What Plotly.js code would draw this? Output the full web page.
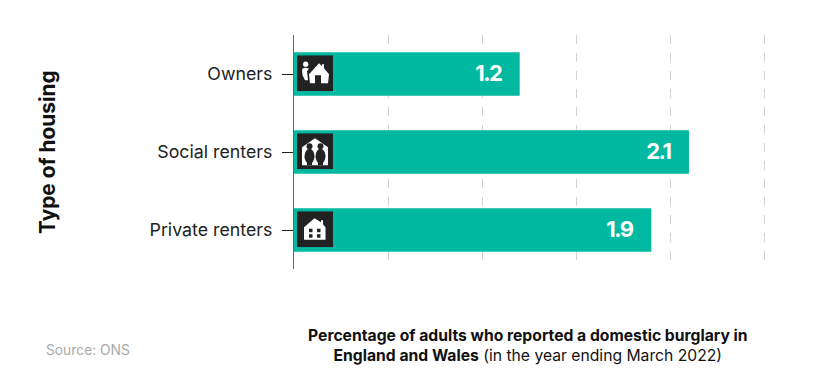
<!DOCTYPE html>
<html>
<head>
<meta charset="utf-8">
<script src="https://cdn.plot.ly/plotly-3.0.1.min.js"></script>
<style>html,body{margin:0;padding:0;background:#fff}#c{width:830px;height:388px}
.annotation[data-index="0"] text,.annotation[data-index="1"] text,.annotation[data-index="2"] text{letter-spacing:-1.5px}</style>
</head>
<body>
<div id="c"></div>
<script>
const categories = ["Owners", "Social renters", "Private renters"];
const values = [1.2, 2.1, 1.9];
const valueLabels = ["1.2", "2.1", "1.9"];
const tickValues = [0.5, 1, 1.5, 2, 2.5];
const FONT = 'Inter, "Open Sans", sans-serif';

const ownerIcon = '<rect width="36" height="36" fill="#222"/><g fill="#fff"><path fill-rule="evenodd" d="M12 19 L22 8 L25 11 L25 9 L27 9 L27 13 L32 19 L31 28 L24 28 L24 20 L18 20 L18 28 L13 28 Z"/><circle cx="8.7" cy="9" r="2.6"/><path d="M5 14 Q8 11.5 12 13.5 L10 16 L10.5 20 L11 25 L8 25 L5.5 20 Z"/></g>';
const socialIcon = '<rect width="36" height="36" fill="#222"/><path d="M18 5 L31 14 L31 32 L5 32 L5 14 Z" fill="#fff"/><g fill="#222"><circle cx="12.5" cy="13" r="3"/><ellipse cx="12.5" cy="23" rx="5" ry="7.5"/><rect x="10" y="26" width="5" height="6"/><circle cx="23.5" cy="13" r="3"/><ellipse cx="23.5" cy="23" rx="5" ry="7.5"/><rect x="21" y="26" width="5" height="6"/></g>';
const privateIcon = '<rect width="36" height="36" fill="#222"/><path d="M17.5 7 L24 11 L24 9 L26 9 L26 13 L28.5 16 L28.5 28.5 L7 28.5 L7 16 Z" fill="#fff"/><g fill="#222"><rect x="12" y="17.5" width="3.5" height="3.5"/><rect x="20" y="17.5" width="3.5" height="3.5"/><rect x="12" y="23" width="3.5" height="3.5"/><rect x="20" y="23" width="3.5" height="3.5"/></g>';
const icons = [ownerIcon, socialIcon, privateIcon];
const uri = s => 'data:image/svg+xml;charset=utf-8,' + encodeURIComponent('<svg xmlns="http://www.w3.org/2000/svg" viewBox="0 0 36 36" width="36" height="36">' + s + '</svg>');

const XMAX = 2.6, PXU = 188, W = XMAX * PXU, H = 234;
const images = categories.map((c, i) => ({
  source: uri(icons[i]), xref: 'x', yref: 'y', x: 3 / PXU, y: i - 0.01,
  sizex: 36 / PXU, sizey: 36 / (H / 3), xanchor: 'left', yanchor: 'middle',
  sizing: 'stretch', layer: 'above'
}));
const valueAnns = categories.map((c, i) => ({
  x: values[i], y: i, xref: 'x', yref: 'y', text: '<b>' + valueLabels[i] + '</b>', showarrow: false,
  xanchor: 'right', yanchor: 'middle', xshift: -14, yshift: 1, font: {family: FONT, size: 22, color: '#fff'}
}));

Plotly.newPlot('c', [{
  type: 'bar', orientation: 'h', y: categories.map((c, i) => i), x: values,
  marker: {color: '#00b9a0', line: {width: 0}}, hoverinfo: 'none'
}], {
  width: 830, height: 388,
  margin: {l: 294, r: 830 - 294 - W, t: 35, b: 119},
  paper_bgcolor: '#fff', plot_bgcolor: '#fff', bargap: 0.44, showlegend: false,
  font: {family: FONT},
  xaxis: {range: [0, XMAX], tickvals: tickValues, showticklabels: false, ticks: '', showgrid: true,
          gridcolor: '#d4d4d4', griddash: 'dash', gridwidth: 1, zeroline: false, showline: false},
  yaxis: {range: [2.5, -0.5], tickvals: [0, 1, 2], ticktext: categories, ticks: 'outside', ticklen: 11,
          tickcolor: '#222', tickwidth: 1, showgrid: false, zeroline: false, showline: true, linecolor: '#666', linewidth: 1,
          ticklabelstandoff: 6, tickfont: {family: FONT, size: 17.8, color: '#222'}, automargin: false},
  images: images,
  annotations: valueAnns.concat([
    {xref: 'paper', yref: 'paper', x: (528 - 294) / W, y: -(345.5 - 269) / H, showarrow: false, xanchor: 'center', yanchor: 'middle', align: 'center',
     text: '<b>Percentage of adults who reported a domestic burglary in</b><br><b>England and Wales</b> (in the year ending March 2022)',
     font: {family: FONT, size: 15.7, color: '#111'}},
    {xref: 'paper', yref: 'paper', x: (44 - 294) / W, y: -(350 - 269) / H, showarrow: false, xanchor: 'left', yanchor: 'middle',
     text: 'Source: ONS', font: {family: FONT, size: 13.8, color: '#aaaaaa'}},
    {xref: 'paper', yref: 'paper', x: (47 - 294) / W, y: 1 - (152 - 35) / H, showarrow: false, xanchor: 'center', yanchor: 'middle', textangle: -90,
     text: '<b>Type of housing</b>', font: {family: FONT, size: 20.8, color: '#111'}}
  ])
}, {displayModeBar: false, staticPlot: true});
</script>
</body>
</html>
